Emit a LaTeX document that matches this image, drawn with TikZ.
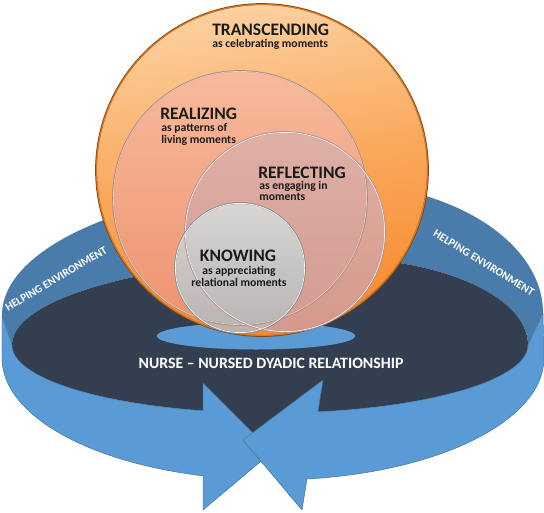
\documentclass[tikz,border=0pt]{standalone}
\usepackage{fontspec}
\setmainfont{Carlito}
\definecolor{navy}{HTML}{333F50}
\definecolor{topblue}{HTML}{497CAB}
\definecolor{wallblue}{HTML}{5B9BD5}
\definecolor{edgeblue}{HTML}{41719C}
\definecolor{orL}{HTML}{FCD0A0}
\definecolor{orM}{HTML}{FAA85C}
\definecolor{orD}{HTML}{F7892E}
\definecolor{orEdge}{HTML}{D9761E}
\definecolor{orShadow}{HTML}{7A4518}
\definecolor{saL}{HTML}{F8BA9C}
\definecolor{saD}{HTML}{EE9270}
\definecolor{saEdge}{HTML}{B58A7C}
\definecolor{saHi}{HTML}{EAD0C6}
\definecolor{rfL}{HTML}{DDB0A8}
\definecolor{rfD}{HTML}{D29C94}
\definecolor{rfEdge}{HTML}{B09490}
\definecolor{gyL}{HTML}{D8D8D8}
\definecolor{gyD}{HTML}{B6B6B6}
\definecolor{gyEdge}{HTML}{8E8E8E}
\definecolor{txt}{HTML}{1A1A1A}
\tikzset{
  wall/.style={fill=wallblue, draw=edgeblue, line width=0.35pt, line join=round},
  titletext/.style={font=\fontsize{13.2}{14}\selectfont\bfseries, text=txt, inner sep=0pt},
  subtext/.style={font=\fontsize{8.8}{9}\selectfont\bfseries, text=txt, inner sep=0pt},
  envtext/.style={font=\fontsize{8.5}{9}\selectfont\bfseries, text=white, inner sep=0pt, anchor=base},
}
\begin{document}
\begin{tikzpicture}[scale=0.0264583]
\useasboundingbox (0,0) rectangle (544,-512);
% top surface of the ring (back)
\fill[topblue] (2,-315) arc[start angle=180,end angle=90,x radius=333,y radius=132]
  arc[start angle=90,end angle=0,x radius=208,y radius=130] -- (528,-345)
  arc[start angle=0,end angle=90,x radius=193,y radius=87]
  arc[start angle=90,end angle=180,x radius=323,y radius=87] -- cycle;
% dark interior
\fill[navy] (12,-345) arc[start angle=180,end angle=90,x radius=323,y radius=87]
  arc[start angle=90,end angle=0,x radius=193,y radius=87]
  arc[start angle=0,end angle=-180,x radius=258,y radius=68] -- cycle;
\fill[navy] (203,-400) rectangle (318,-445);
% left arrow
\draw[wall] (2,-315) -- (2,-358) arc[start angle=180,end angle=255.03,x radius=271,y radius=122]
  -- (203,-510) -- (272,-452) -- (203,-383) -- (203,-410.7)
  arc[start angle=254.95,end angle=180,x radius=258,y radius=68] -- cycle;
% right arrow
\draw[wall] (543,-313) -- (528,-345) arc[start angle=0,end angle=-79.28,x radius=258,y radius=68]
  -- (323,-380) -- (243,-440) -- (302,-510) -- (307,-479)
  arc[start angle=-82.79,end angle=0,x radius=271,y radius=122] -- cycle;
% labels on the ring
\node[envtext, rotate=30.5] (envL) at (58,-282) {HELPING ENVIRONMENT};
\node[envtext, rotate=-31.5] (envR) at (482,-266) {HELPING ENVIRONMENT};
% base ellipse
\fill[wallblue] (256,-336) ellipse[x radius=99,y radius=13.5];
% circles fills
\shade[top color=orL, bottom color=orD, middle color=orM, shading angle=10] (262,-170) circle[radius=166];
\shade[top color=saL, bottom color=saD] (240,-198) circle[radius=127];
\shade[top color=rfL, bottom color=rfD, opacity=0.93] (285,-232) circle[radius=100];
\shade[top color=gyL, bottom color=gyD, opacity=0.95] (240,-268) circle[radius=65];
% outlines
\draw[orShadow, line width=1.3pt] (262,-170) circle[radius=166];
\draw[orEdge, line width=0.9pt] (262,-170) circle[radius=165.5];
\draw[saEdge, line width=1.3pt] (240,-198) circle[radius=127];
\draw[saHi, line width=0.5pt] (240,-198) circle[radius=126.6];
\draw[rfEdge, line width=1.3pt] (285,-232) circle[radius=100];
\draw[white!85!rfL, line width=0.5pt] (285,-232) circle[radius=99.6];
\draw[gyEdge, line width=1.4pt] (240,-268) circle[radius=65];
\draw[white, line width=0.5pt] (240,-268) circle[radius=64.6];
% texts
\node[titletext, anchor=base west] (tr) at (212,-35) {TRANSCENDING};
\node[subtext, anchor=base west] (trs) at (212,-47) {as celebrating moments};
\node[titletext, anchor=base west] (re) at (160,-119) {REALIZING};
\node[subtext, anchor=base west] (res1) at (161,-131) {as patterns of};
\node[subtext, anchor=base west] (res2) at (161,-143) {living moments};
\node[titletext, anchor=base west] (rf) at (258,-178) {REFLECTING};
\node[subtext, anchor=base west] (rfs1) at (259,-189) {as engaging in};
\node[subtext, anchor=base west] (rfs2) at (259,-200) {moments};
\node[titletext, anchor=base] (kn) at (238,-261) {KNOWING};
\node[subtext, anchor=base] (kns1) at (239,-274) {as appreciating};
\node[subtext, anchor=base] (kns2) at (239,-286) {relational moments};
\node[font=\fontsize{11.9}{12}\selectfont\bfseries, text=white, inner sep=0pt, anchor=base] (nr) at (271,-368) {NURSE – NURSED DYADIC RELATIONSHIP};
\end{tikzpicture}
\end{document}
